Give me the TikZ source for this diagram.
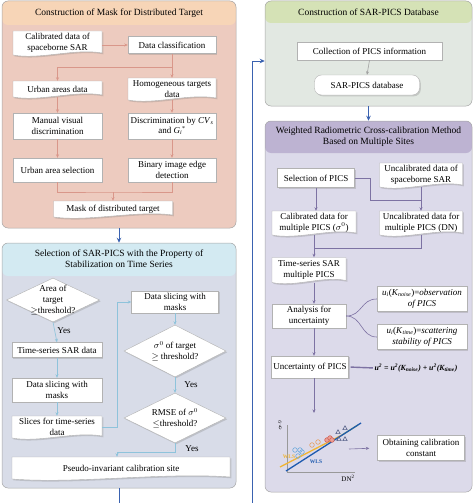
\documentclass[tikz,border=0pt]{standalone}
\usepackage{fontspec}
\setmainfont{Liberation Serif}
\usetikzlibrary{shapes.geometric,shadows,arrows.meta,calc}
\definecolor{pAbody}{HTML}{EDCBBF}
\definecolor{pAhead}{HTML}{F7D5B7}
\definecolor{pBbody}{HTML}{D8DCE8}
\definecolor{pBhead}{HTML}{D3EAF2}
\definecolor{pCbody}{HTML}{E2E8E2}
\definecolor{pChead}{HTML}{D5E2B6}
\definecolor{pDbody}{HTML}{DCDAEA}
\definecolor{pDhead}{HTML}{BDB3D2}
\definecolor{cA}{HTML}{D9978A}
\definecolor{cB}{HTML}{8EC3DB}
\definecolor{cC}{HTML}{A0A0A0}
\definecolor{cD}{HTML}{7D72A3}
\definecolor{cBlue}{HTML}{3A62B0}
\definecolor{chY}{HTML}{F0B432}
\definecolor{chG}{HTML}{AAC850}
\definecolor{chB}{HTML}{1E5AAF}
\definecolor{ptB}{HTML}{6EAADC}
\definecolor{ptO}{HTML}{E6A064}
\definecolor{ptR}{HTML}{D2645A}
\definecolor{ptRf}{HTML}{EBA096}
\definecolor{ptT}{HTML}{5A648C}
\tikzset{
 fs/.style={font=\fontsize{9}{10.6}\selectfont},
 shadowed/.style={drop shadow={shadow xshift=1.3pt,shadow yshift=-1.3pt,opacity=0.3}},
 wbox/.style={rectangle, fill=white, draw=black!30, line width=0.4pt, shadowed, inner sep=1pt, align=center, fs},
 docsh/.style={fill=white, draw=black!30, line width=0.4pt, shadowed},
 doct/.style={inner sep=1pt, align=center, fs},
 dia/.style={diamond, fill=white, draw=black!30, line width=0.4pt, shadowed, inner sep=0pt},
 txt/.style={inner sep=0pt, align=center, fs},
 panel/.style={rounded corners=6pt, draw=black!35, line width=0.5pt, inner sep=0pt},
 hdr/.style={font=\fontsize{9.5}{11.2}\selectfont, align=center, inner sep=0pt},
 arr/.style={-{Stealth[length=3.5pt,width=3pt]}},
 arrb/.style={-{Stealth[length=5pt,width=4.5pt]}},
 lA/.style={draw=cA, line width=0.6pt},
 lB/.style={draw=cB, line width=0.6pt},
 lC/.style={draw=cC, line width=0.6pt},
 lD/.style={draw=cD, line width=0.6pt},
 lBlue/.style={draw=cBlue, line width=0.9pt},
 ptc/.style={line width=0.6pt},
}
\newcommand{\mydoc}[6]{%
 \path[docsh] ({#2-#4/2},{#3-#5/2}) -- ({#2+#4/2},{#3-#5/2}) -- ({#2+#4/2},{#3+#5/2-2})
   .. controls ({#2+#4/5},{#3+#5/2-7}) and ({#2-#4/5},{#3+#5/2+5}) .. ({#2-#4/2},{#3+#5/2}) -- cycle;
 \node[doct, minimum width=#4pt, minimum height=#5pt] (#1) at (#2,#3) {#6};}
\begin{document}
\begin{tikzpicture}[x=1pt,y=-1pt]
\useasboundingbox (0,0) rectangle (474,503);
% ---------- panels
\node[panel, fill=pAbody, minimum width=234pt, minimum height=227pt,
  path picture={\fill[pAhead] (path picture bounding box.north west) rectangle ([yshift=-24pt]path picture bounding box.north east);}] (P1) at (119,114.5) {};
\node[panel, fill=pBbody, minimum width=234pt, minimum height=245pt,
  path picture={\fill[pBhead] (path picture bounding box.north west) rectangle ([yshift=-33pt]path picture bounding box.north east);}] (P2) at (119,365.5) {};
\node[panel, fill=pCbody, minimum width=207pt, minimum height=105pt,
  path picture={\fill[pChead] (path picture bounding box.north west) rectangle ([yshift=-22pt]path picture bounding box.north east);}] (P3) at (368.5,53.5) {};
\node[panel, fill=pDbody, minimum width=207pt, minimum height=371pt,
  path picture={\fill[pDhead] (path picture bounding box.north west) rectangle ([yshift=-32pt]path picture bounding box.north east);}] (P4) at (368.5,306.5) {};
\node[hdr] (H1) at (119,13) {Construction of Mask for Distributed Target};
\node[hdr] (H2) at (119,259) {Selection of SAR-PICS with the Property of\\Stabilization on Time Series};
\node[hdr] (H3) at (368.5,12) {Construction of SAR-PICS Database};
\node[hdr] (H4) at (368.5,137) {Weighted Radiometric Cross-calibration Method\\Based on Multiple Sites};
% ---------- panel 1
\mydoc{cal}{57.5}{43}{89}{24}{Calibrated data of\\spaceborne SAR}
\node[wbox, minimum width=88pt, minimum height=17pt] (cls) at (172,45) {Data classification};
\mydoc{urb}{57.5}{89}{89}{16}{Urban areas data}
\mydoc{hom}{172}{89}{88}{22}{Homogeneous targets\\data}
\node[wbox, minimum width=89pt, minimum height=26pt] (man) at (57.5,126) {Manual visual\\discrimination};
\node[wbox, minimum width=88pt, minimum height=26pt] (dis) at (172,126) {Discrimination by \textit{CV}\textsubscript{\textit{s}}\\and \textit{G}\textsubscript{\textit{i}}\textsuperscript{*}};
\node[wbox, minimum width=89pt, minimum height=24pt] (usel) at (57.5,170) {Urban area selection};
\node[wbox, minimum width=88pt, minimum height=24pt] (bin) at (172,170) {Binary image edge\\detection};
\mydoc{mask}{113}{209}{119}{16}{Mask of distributed target}
\draw[lA,arr] (cal.east |- cls.west) -- (cls.west);
\coordinate (j1) at (172,67);
\draw[lA] (cls.south) -- (j1);
\draw[lA,arr] (j1) -| (urb.north);
\draw[lA,arr] (j1) -- (hom.north);
\draw[lA,arr] (urb.south) -- (man.north);
\draw[lA,arr] (hom.south) -- (dis.north);
\draw[lA,arr] (man.south) -- (usel.north);
\draw[lA,arr] (dis.south) -- (bin.north);
\coordinate (j2) at (113,192);
\draw[lA] (usel.south) |- (j2) -| (bin.south);
\draw[lA,arr] (j2) -- (mask.north);
\draw[lBlue,arrb] (P1.south) -- (P2.north);
% ---------- panel 2
\node[dia, minimum width=93pt, minimum height=44pt] (d1) at (53,300) {};
\node[txt] (d1t) at (d1.center) {Area of\\target\\$\geq$threshold?};
\node[txt] (y1) at (64,331) {Yes};
\node[wbox, minimum width=90pt, minimum height=15pt] (ts) at (57,350) {Time-series SAR data};
\node[wbox, minimum width=90pt, minimum height=24pt] (ds1) at (57,390) {Data slicing with\\masks};
\mydoc{sl}{57}{427}{90}{22}{Slices for time-series\\data}
\node[wbox, minimum width=87pt, minimum height=22pt] (ds2) at (175,302) {Data slicing with\\masks};
\node[dia, minimum width=102pt, minimum height=52pt] (d2) at (175,351) {};
\node[txt] (d2t) at (d2.center) {$\sigma^0$ of target\\$\geq$ threshold?};
\node[txt] (y2) at (191,385) {Yes};
\node[dia, minimum width=102pt, minimum height=50pt] (d3) at (175,418) {};
\node[txt] (d3t) at (d3.center) {RMSE of $\sigma^0$\\$\leq$threshold?};
\node[txt] (y3) at (192,449) {Yes};
\mydoc{pis}{121}{468}{218}{22}{Pseudo-invariant calibration site}
\draw[lB,arr] (d1.south) -- (ts.north);
\draw[lB,arr] (ts.south) -- (ds1.north);
\draw[lB,arr] (ds1.south) -- (sl.north);
\coordinate (j3) at (117,302);
\draw[lB,arr] (sl.east) -| (j3) -- (ds2.west);
\draw[lB,arr] (ds2.south) -- (d2.north);
\draw[lB,arr] (d2.south) -- (d3.north);
\coordinate (j4) at (117,452);
\draw[lB,arr] (d3.south) |- (j4) -- (j4 |- pis.north);
% ---------- long blue connector
\coordinate (rl) at (252,61);
\draw[lBlue,arrb] (P2.south) |- (252,515) -- (rl) -- (rl -| P3.west);
% ---------- panel 3
\node[wbox, minimum width=145pt, minimum height=18pt] (col) at (369.5,51) {Collection of PICS information};
\node[wbox, rounded corners=7pt, minimum width=105pt, minimum height=20pt] (db) at (367,85) {SAR-PICS database};
\draw[lC,arr] (col.south) -- (db.north);
\draw[lBlue,arrb] (P3.south) -- (P4.north);
% ---------- panel 4
\node[wbox, minimum width=77pt, minimum height=19pt] (sel) at (316,178) {Selection of PICS};
\mydoc{unc}{421}{175}{83}{24}{Uncalibrated data of\\spaceborne SAR}
\mydoc{cdm}{314}{223}{84}{24}{Calibrated data for\\multiple PICS ($\sigma^0$)}
\mydoc{udm}{421}{223}{83}{24}{Uncalibrated data for\\multiple PICS (DN)}
\mydoc{tsm}{309}{270}{74}{25}{Time-series SAR\\multiple PICS}
\node[wbox, minimum width=74pt, minimum height=24pt] (ana) at (309,316) {Analysis for\\uncertainty};
\node[wbox, minimum width=90pt, minimum height=25pt] (un1) at (422,299) {\textit{u\textsubscript{i}}(\textit{K}\textsubscript{\textit{noise}})=\textit{observation}\\\textit{of PICS}};
\node[wbox, minimum width=90pt, minimum height=25pt] (un2) at (422,337) {\textit{u\textsubscript{i}}(\textit{K}\textsubscript{\textit{time}})=\textit{scattering}\\\textit{stability of PICS}};
\node[wbox, minimum width=77pt, minimum height=22pt] (unp) at (310,367) {Uncertainty of PICS};
\node[txt, font=\fontsize{7.8}{9}\selectfont] (form) at (416,368) {\bfseries\itshape u\textsuperscript{2} = u\textsuperscript{2}(K\textsubscript{noise}) + u\textsuperscript{2}(K\textsubscript{time})};
\node[wbox, minimum width=87pt, minimum height=25pt] (obt) at (421,448) {Obtaining calibration\\constant};
\coordinate (j5) at (370,200);
\draw[lD] (sel.east) -| (j5) -- (j5 -| unc.south);
\draw[lD,arr] (unc.south) -- (udm.north);
\draw[lD,arr] (sel.south) -- (sel.south |- cdm.north);
\coordinate (j6) at (314,248);
\draw[lD] (cdm.south) -- (j6) -- (j6 -| udm.south) -- (udm.south);
\draw[lD,arr] (j6) -- (j6 |- tsm.north);
\draw[lD,arr] (tsm.south -| j6) -- (j6 |- ana.north);
\draw[lD,arr] (ana.south -| j6) -- (j6 |- unp.north);
\draw[lD] (ana.east) .. controls +(16,0) and +(-16,0) .. (un1.west);
\draw[lD] (ana.east) .. controls +(16,0) and +(-16,0) .. (un2.west);
\draw[lD, line width=1.4pt, shorten <=2pt, shorten >=1.5pt] (unp.east) -- (form.west);
\coordinate (ch) at (314,413);
\draw[lD,arr] (unp.south -| j6) -- (ch);
\coordinate (ce) at (349,449);
\draw[lD,arr, shorten >=8pt] (ce) -- (obt.west);
% ---------- chart
\draw[black!40, line width=0.5pt] (287,425) -- (287,472) -- (355,472);
\draw[chY, line width=1.3pt] (280,467) -- (342,435);
\draw[chG, line width=1.3pt] (342,435) -- (358,425);
\draw[chB, line width=1.3pt] (286,471) -- (361,423);
\foreach \px/\py in {295/450,300/450,302/452,298/456} \draw[ptc, ptB] (\px,\py) circle[radius=2.3pt];
\foreach \px/\py in {312/445,318/442} \draw[ptc, ptO] (\px,\py) circle[radius=2.3pt];
\foreach \px/\py in {327/440,330/438,332/440} \draw[ptc, draw=ptR, fill=ptRf] (\px,\py) circle[radius=2.3pt];
\foreach \px/\py in {338/432,345/428,339/439,345/439} \draw[ptc, ptT] (\px,\py-2.2) -- (\px+2.2,\py+1.6) -- (\px-2.2,\py+1.6) -- cycle;
\node[inner sep=0pt, font=\fontsize{5.5}{6}\selectfont\bfseries, text=chB] (wls1) at (316,462) {WLS};
\node[inner sep=0pt, font=\fontsize{5.5}{6}\selectfont\bfseries, text=chY] (wls2) at (289,457) {WLS};
\node[inner sep=0pt, font=\fontsize{7}{7}\selectfont, rotate=60] (sg) at (280,425) {$\sigma^0$};
\node[inner sep=0pt, font=\fontsize{7}{7}\selectfont] (dn) at (348,478) {DN\textsuperscript{2}};
\end{tikzpicture}
\end{document}
